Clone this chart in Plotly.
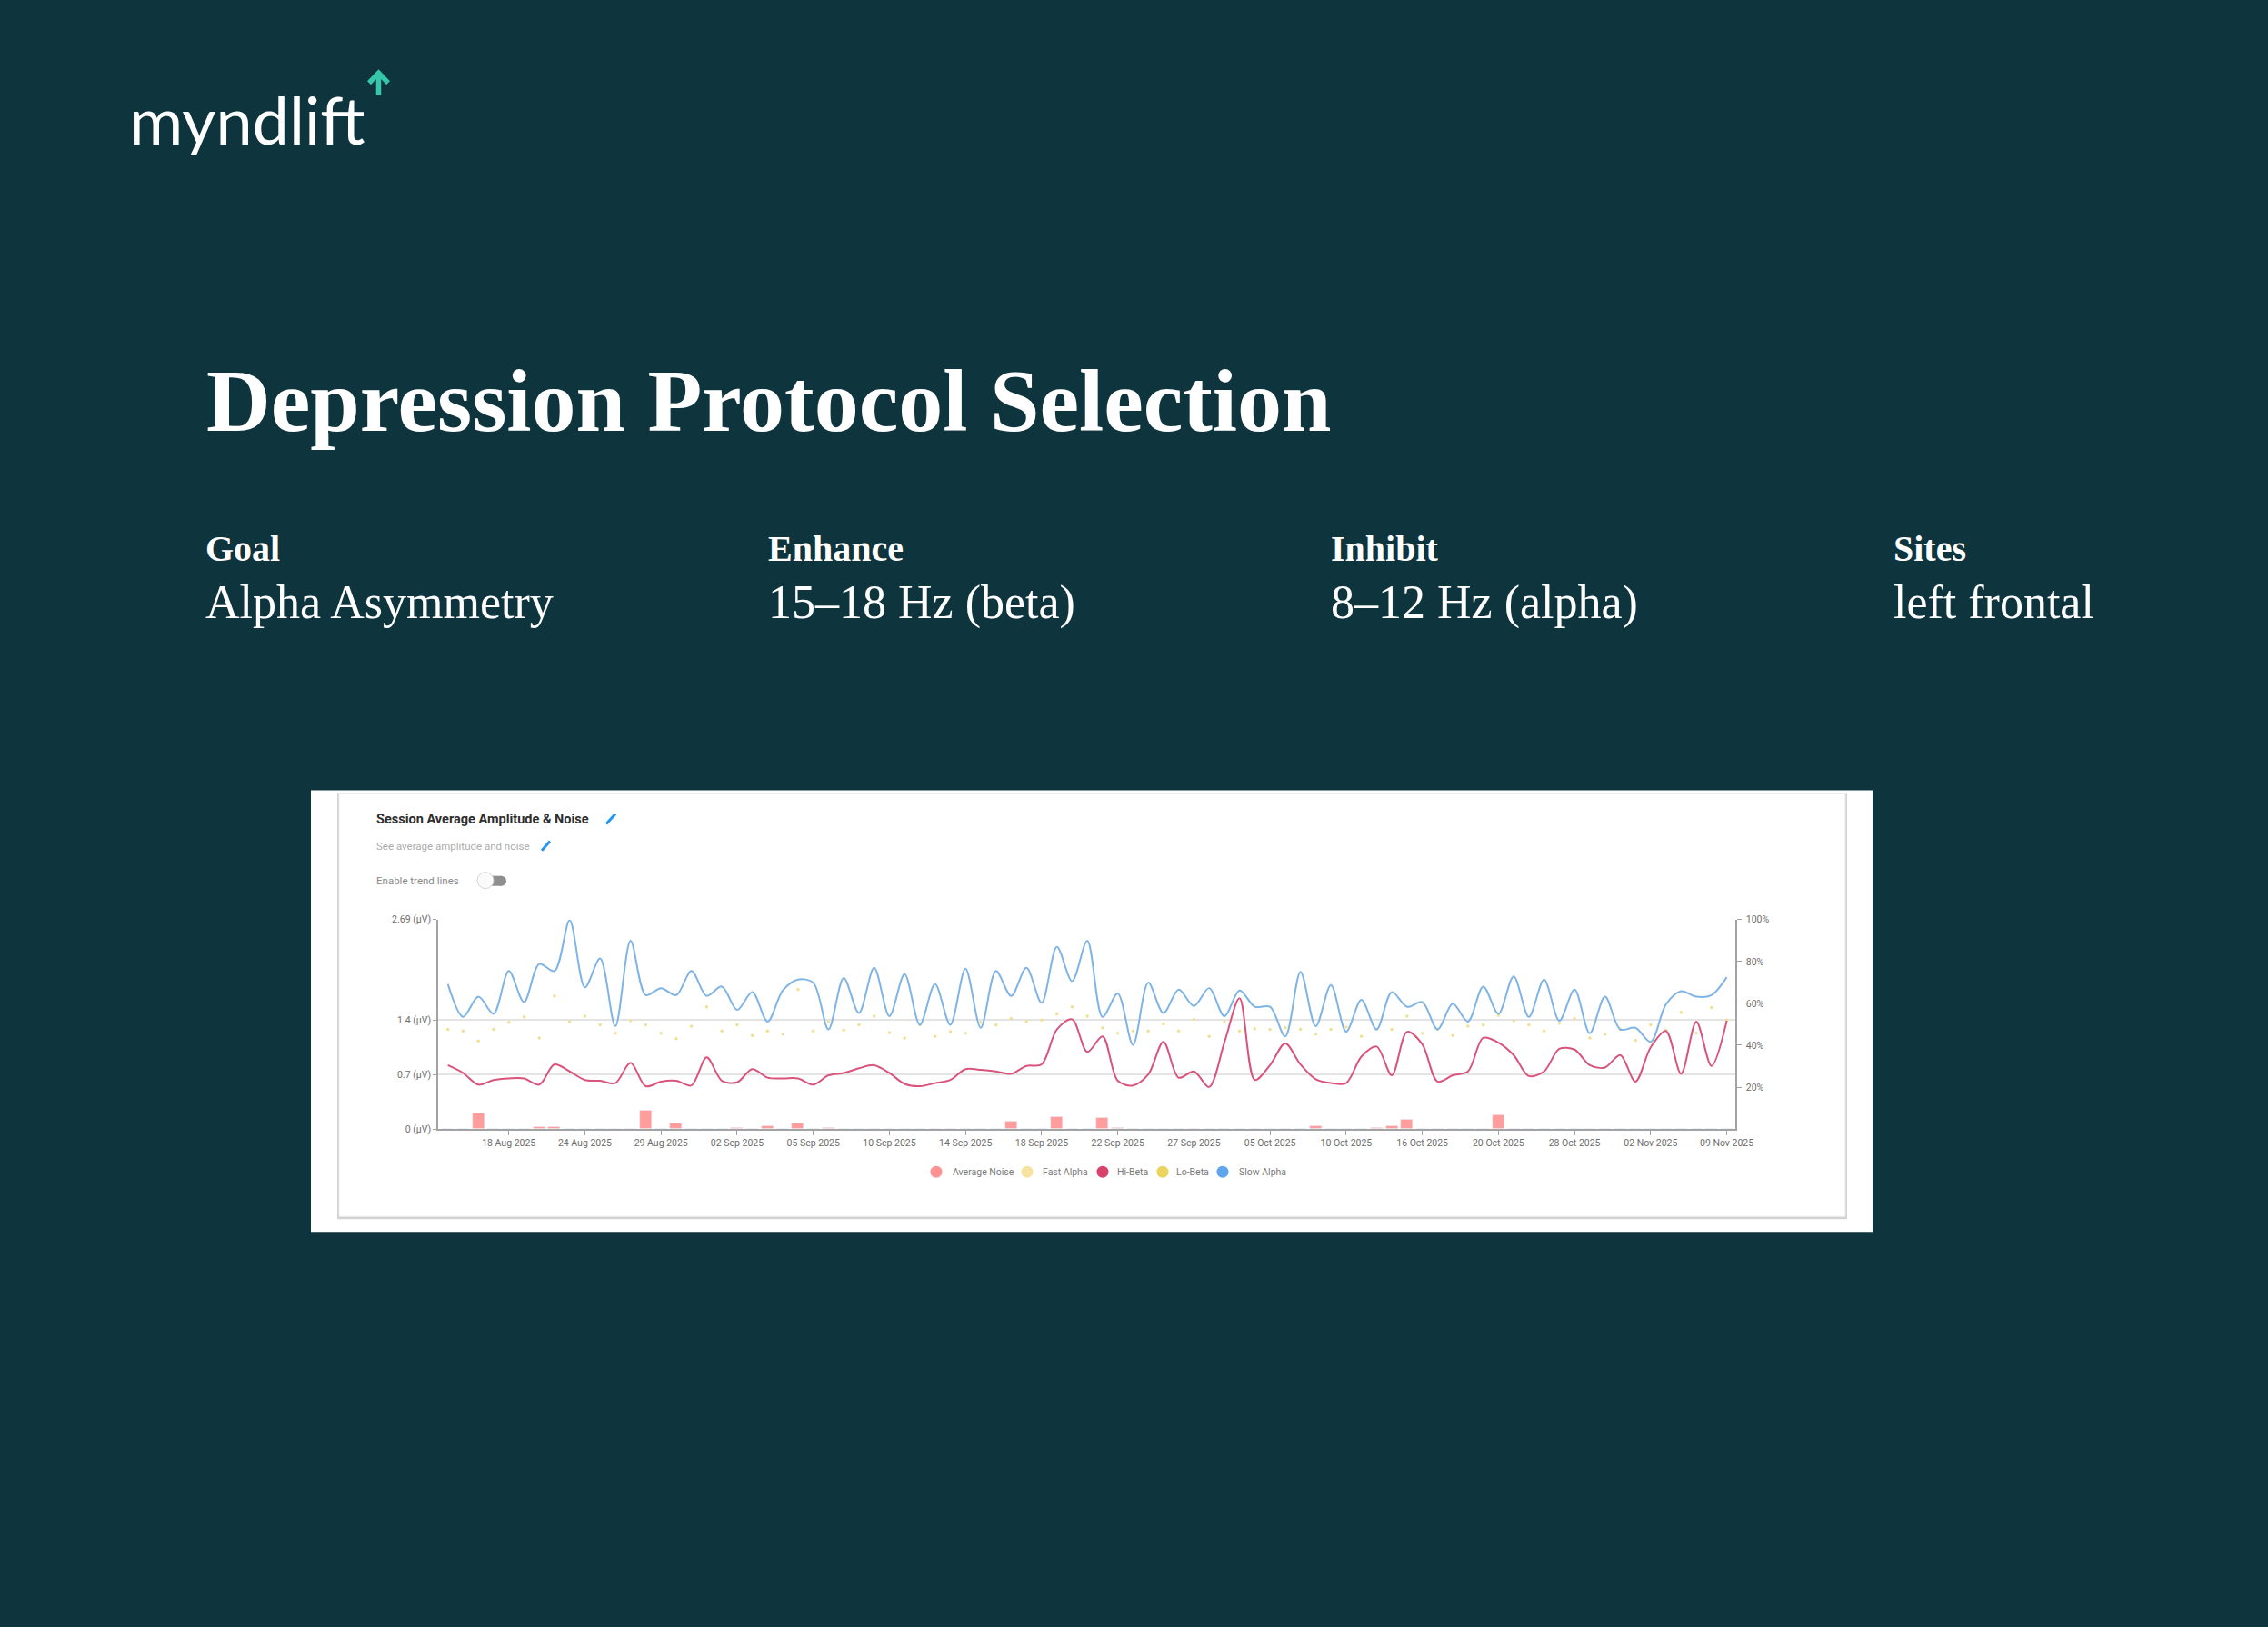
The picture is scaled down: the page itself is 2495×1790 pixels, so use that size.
import plotly.graph_objects as go

# ---------------- data ----------------
sessions = list(range(85))

slow_alpha = [1.86, 1.44, 1.70, 1.48, 2.03, 1.63, 2.12, 2.03, 2.68, 1.82,
              2.19, 1.32, 2.42, 1.72, 1.81, 1.72, 2.03, 1.71, 1.83, 1.53,
              1.76, 1.38, 1.78, 1.92, 1.88, 1.28, 1.94, 1.49, 2.07, 1.45,
              1.99, 1.34, 1.86, 1.34, 2.06, 1.30, 2.03, 1.71, 2.07, 1.62,
              2.34, 1.90, 2.42, 1.44, 1.74, 1.08, 1.88, 1.49, 1.79, 1.58,
              1.81, 1.45, 1.78, 1.57, 1.57, 1.19, 2.02, 1.32, 1.85, 1.25,
              1.66, 1.28, 1.76, 1.57, 1.63, 1.28, 1.61, 1.38, 1.83, 1.48,
              1.96, 1.44, 1.92, 1.39, 1.79, 1.23, 1.70, 1.28, 1.30, 1.12,
              1.60, 1.77, 1.70, 1.72, 1.95]

hi_beta = [0.82, 0.72, 0.57, 0.63, 0.65, 0.65, 0.57, 0.83, 0.74, 0.63,
           0.62, 0.59, 0.85, 0.55, 0.61, 0.62, 0.56, 0.92, 0.62, 0.60,
           0.77, 0.66, 0.65, 0.65, 0.57, 0.69, 0.72, 0.78, 0.82, 0.72,
           0.58, 0.55, 0.59, 0.63, 0.77, 0.76, 0.74, 0.71, 0.81, 0.83,
           1.28, 1.41, 0.99, 1.19, 0.62, 0.56, 0.70, 1.12, 0.66, 0.74,
           0.54, 1.11, 1.68, 0.63, 0.82, 1.10, 0.83, 0.64, 0.59, 0.59,
           0.93, 1.06, 0.69, 1.25, 1.09, 0.61, 0.69, 0.74, 1.17, 1.11,
           0.95, 0.68, 0.74, 1.03, 1.02, 0.82, 0.79, 0.95, 0.61, 1.05,
           1.26, 0.71, 1.38, 0.81, 1.39]

lo_beta = [1.28, 1.26, 1.13, 1.28, 1.37, 1.44, 1.17, 1.71, 1.38, 1.45,
           1.34, 1.23, 1.39, 1.34, 1.23, 1.16, 1.32, 1.57, 1.26, 1.34,
           1.20, 1.26, 1.22, 1.79, 1.26, 1.38, 1.27, 1.34, 1.45, 1.24,
           1.17, 1.34, 1.19, 1.25, 1.23, 1.37, 1.34, 1.42, 1.38, 1.40,
           1.48, 1.57, 1.45, 1.30, 1.23, 1.26, 1.26, 1.35, 1.26, 1.41,
           1.19, 1.38, 1.26, 1.29, 1.28, 1.30, 1.28, 1.22, 1.28, 1.31,
           1.19, 1.28, 1.28, 1.45, 1.23, 1.28, 1.20, 1.32, 1.34, 1.46,
           1.39, 1.34, 1.26, 1.36, 1.42, 1.17, 1.22, 1.28, 1.14, 1.34,
           1.27, 1.50, 1.23, 1.56, 1.40]

avg_noise = [0, 0, 7.6, 0, 0, 0, 0.9, 0.9, 0, 0,
             0, 0, 0, 8.7, 0, 2.6, 0, 0, 0, 0.6,
             0, 1.6, 0, 2.6, 0, 0.7, 0, 0, 0, 0,
             0, 0, 0, 0, 0, 0, 0, 3.6, 0, 0,
             5.7, 0, 0, 5.5, 0.7, 0, 0, 0, 0, 0,
             0, 0, 0, 0, 0, 0, 0, 1.6, 0, 0,
             0, 0.6, 1.6, 4.5, 0, 0, 0, 0, 0, 6.6,
             0, 0, 0, 0, 0, 0, 0, 0, 0, 0,
             0, 0, 0, 0, 0]

tick_sessions = [4, 9, 14, 19, 24, 29, 34, 39, 44, 49, 54, 59, 64, 69, 74, 79, 84]
tick_labels = ["18 Aug 2025", "24 Aug 2025", "29 Aug 2025", "02 Sep 2025", "05 Sep 2025",
               "10 Sep 2025", "14 Sep 2025", "18 Sep 2025", "22 Sep 2025", "27 Sep 2025",
               "05 Oct 2025", "10 Oct 2025", "16 Oct 2025", "20 Oct 2025", "28 Oct 2025",
               "02 Nov 2025", "09 Nov 2025"]
uv_ticks = [0, 0.7, 1.4, 2.69]
uv_labels = ["0 (µV)", "0.7 (µV)", "1.4 (µV)", "2.69 (µV)"]
pct_ticks = [20, 40, 60, 80, 100]
pct_labels = ["20%", "40%", "60%", "80%", "100%"]

legend_names = ["Average Noise", "Fast Alpha", "Hi-Beta", "Lo-Beta", "Slow Alpha"]
legend_colors = ["#ff9393", "#f6e3a0", "#d9426d", "#ecd35e", "#5ea5ee"]

info_labels = ["Goal", "Enhance", "Inhibit", "Sites"]
info_values = ["Alpha Asymmetry", "15–18 Hz (beta)", "8–12 Hz (alpha)", "left frontal"]

# ---------------- layout helpers ----------------
W, H = 2495, 1790
BG = "#0e343e"
SX, SY, OY = 0.992, 0.9911, 7.9


def px(x):
    return (x / SX) / W


def py(y):
    return 1 - ((y - OY) / SY) / H


fig = go.Figure()

fig.add_trace(go.Bar(x=sessions, y=avg_noise, yaxis="y2", marker_color="#ff9c9c",
                     width=0.78, showlegend=False, name="Average Noise"))
fig.add_trace(go.Scatter(x=sessions, y=lo_beta, mode="markers",
                         marker=dict(size=3.5, color="#f2df96"),
                         showlegend=False, name="Lo-Beta"))
fig.add_trace(go.Scatter(x=sessions, y=hi_beta, mode="lines",
                         line=dict(color="#d9547c", width=2, shape="spline", smoothing=0.9),
                         showlegend=False, name="Hi-Beta"))
fig.add_trace(go.Scatter(x=sessions, y=slow_alpha, mode="lines",
                         line=dict(color="#7fb4e4", width=2, shape="spline", smoothing=0.9),
                         showlegend=False, name="Slow Alpha", cliponaxis=False))

axis_font = dict(family="Roboto", size=10.5, color="#6e6e6e")
line_col = "#a3a3a3"

fig.update_layout(
    width=W, height=H,
    margin=dict(l=0, r=0, t=0, b=0, pad=0),
    paper_bgcolor=BG, plot_bgcolor="rgba(0,0,0,0)",
    hovermode=False,
    showlegend=False,
    bargap=0,
    xaxis=dict(domain=[px(482), px(1909)], range=[-0.64, 84.56],
               tickvals=tick_sessions, ticktext=tick_labels,
               showline=True, linecolor=line_col, linewidth=1.5,
               ticks="outside", ticklen=5, tickcolor=line_col,
               showgrid=False, zeroline=False, tickfont=axis_font),
    yaxis=dict(domain=[py(1242), py(1012)], range=[0, 2.69],
               tickvals=uv_ticks, ticktext=uv_labels,
               showgrid=True, gridcolor="#e4e4e4", gridwidth=1.5,
               showline=True, linecolor=line_col, linewidth=1.5,
               ticks="outside", ticklen=4, tickcolor=line_col,
               zeroline=False, tickfont=axis_font),
    yaxis2=dict(overlaying="y", side="right", anchor="x", range=[0, 100],
                tickvals=pct_ticks, ticktext=pct_labels,
                showgrid=False, showline=True, linecolor=line_col, linewidth=1.5,
                ticks="outside", ticklen=5, tickcolor=line_col,
                ticklabelstandoff=3, zeroline=False, tickfont=axis_font),
)

shapes = [
    dict(type="rect", xref="paper", yref="paper", x0=px(342), x1=px(2060), y0=py(1355), y1=py(870),
         fillcolor="white", line=dict(width=0), layer="below"),
    dict(type="rect", xref="paper", yref="paper", x0=px(371), x1=px(2032), y0=py(1341), y1=py(873),
         fillcolor="#d2d2d2", line=dict(width=0), layer="below"),
    dict(type="rect", xref="paper", yref="paper", x0=px(373), x1=px(2030), y0=py(1338), y1=py(873),
         fillcolor="white", line=dict(width=1, color="#ececec"), layer="below"),
    # pencil icons
    dict(type="line", xref="paper", yref="paper", x0=px(667), x1=px(677), y0=py(907), y1=py(896),
         line=dict(color="#2196f3", width=3)),
    dict(type="line", xref="paper", yref="paper", x0=px(596), x1=px(605), y0=py(936), y1=py(926),
         line=dict(color="#2196f3", width=3)),
    # toggle
    dict(type="rect", xref="paper", yref="paper", x0=px(535), x1=px(552), y0=py(975), y1=py(964),
         fillcolor="#8e8e8e", line=dict(width=0)),
    dict(type="circle", xref="paper", yref="paper", x0=px(546), x1=px(557), y0=py(975), y1=py(964),
         fillcolor="#8e8e8e", line=dict(width=0)),
    dict(type="circle", xref="paper", yref="paper", x0=px(525), x1=px(543), y0=py(978), y1=py(960),
         fillcolor="#fafafa", line=dict(width=1, color="#d6d6d6")),
    # logo arrow
    dict(type="path", xref="paper", yref="paper",
         path="M{:.5f},{:.5f} L{:.5f},{:.5f} L{:.5f},{:.5f} M{:.5f},{:.5f} L{:.5f},{:.5f}".format(
             px(406), py(93), px(416.5), py(82), px(427), py(93),
             px(416.5), py(83), px(416.5), py(106)),
         line=dict(color="#36c6a9", width=5.5)),
]

ann = []
# legend (circles + labels)
leg_circle_x = [1030, 1130, 1213, 1279, 1345]
leg_text_x = [1047, 1146, 1228, 1293, 1362]
for cx, tx, n, c in zip(leg_circle_x, leg_text_x, legend_names, legend_colors):
    shapes.append(dict(type="circle", xref="paper", yref="paper",
                       x0=px(cx - 6.5), x1=px(cx + 6.5), y0=py(1295.5), y1=py(1282.5),
                       fillcolor=c, line=dict(width=0)))
    ann.append(dict(text=n, x=px(tx - 1), y=py(1289), xref="paper", yref="paper",
                    xanchor="left", yanchor="middle", showarrow=False,
                    font=dict(family="Roboto", size=10.5, color="#7a7a7a")))
fig.update_layout(shapes=shapes)

# logo
ann.append(dict(text="myndlift", x=px(140), y=py(133), xref="paper", yref="paper",
                xanchor="left", yanchor="middle", showarrow=False,
                font=dict(family="Lato", size=72, color="white")))
# title
ann.append(dict(text="<b>Depression Protocol Selection</b>", x=px(225), y=py(442),
                xref="paper", yref="paper", xanchor="left", yanchor="middle", showarrow=False,
                font=dict(family="Liberation Serif", size=98, color="white")))
cols = [226, 845, 1464, 2083]
for cx, lab, val in zip(cols, info_labels, info_values):
    ann.append(dict(text="<b>" + lab + "</b>", x=px(cx - 2), y=py(604), xref="paper", yref="paper",
                    xanchor="left", yanchor="middle", showarrow=False,
                    font=dict(family="Liberation Serif", size=40, color="white")))
    ann.append(dict(text=val, x=px(cx - 2), y=py(663.5), xref="paper", yref="paper",
                    xanchor="left", yanchor="middle", showarrow=False,
                    font=dict(family="Liberation Serif", size=52, color="white")))
# card texts
ann.append(dict(text="<b>Session Average Amplitude &amp; Noise</b>", x=px(412), y=py(902),
                xref="paper", yref="paper", xanchor="left", yanchor="middle", showarrow=False,
                font=dict(family="Roboto", size=14.5, color="#2e2e2e")))
ann.append(dict(text="See average amplitude and noise", x=px(412), y=py(931),
                xref="paper", yref="paper", xanchor="left", yanchor="middle", showarrow=False,
                font=dict(family="Roboto", size=11.5, color="#adadad")))
ann.append(dict(text="Enable trend lines", x=px(412), y=py(969),
                xref="paper", yref="paper", xanchor="left", yanchor="middle", showarrow=False,
                font=dict(family="Roboto", size=11.5, color="#8a8a8a")))
fig.update_layout(annotations=ann)

fig.write_html("out.html")
